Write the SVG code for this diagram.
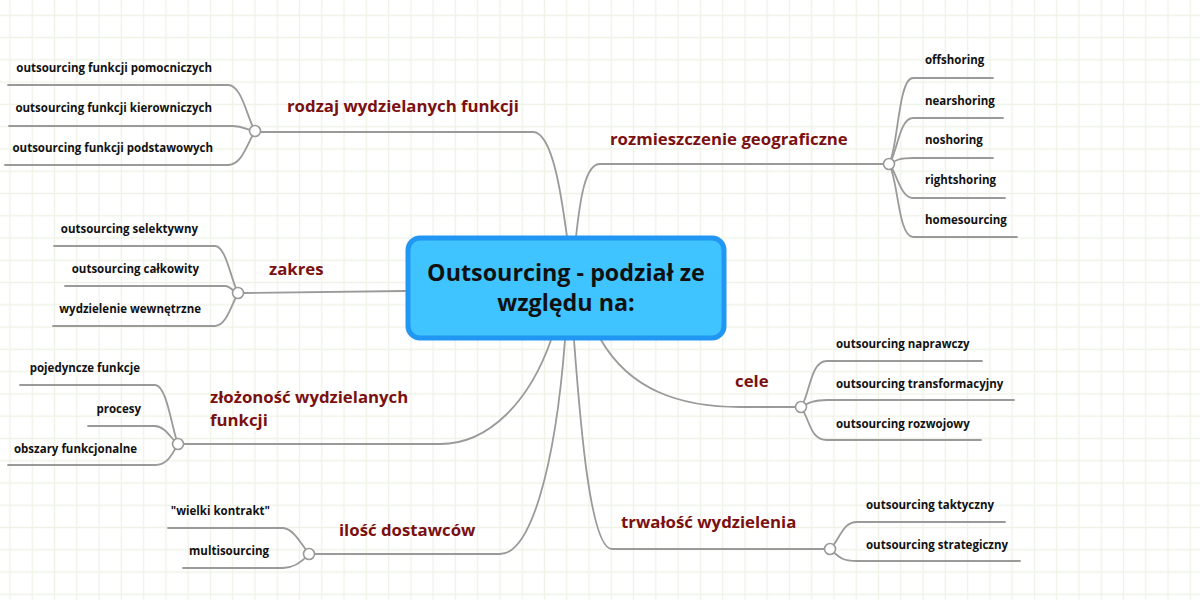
<svg xmlns="http://www.w3.org/2000/svg" width="1200" height="600" viewBox="0 0 1200 600">
<defs>
<pattern id="grid" patternUnits="userSpaceOnUse" x="-1.135" y="4.165" width="22.27" height="22.27">
<path d="M11.135,0 V22.27 M0,11.135 H22.27" stroke="#eef3e6" stroke-width="1.3" fill="none"/>
</pattern>
<style>
.c{fill:none;stroke:#9a9a9a;stroke-width:1.8;stroke-linecap:round}
.dot{fill:#fff;stroke:#9a9a9a;stroke-width:1.6}
.br{font-family:"Open Sans","Liberation Sans",sans-serif;font-weight:700;font-size:16.8px;fill:#7a1010}
.lf{font-family:"Open Sans","Liberation Sans",sans-serif;font-weight:700;font-size:11.5px;fill:#111}
.ce{font-family:"Open Sans","Liberation Sans",sans-serif;font-weight:700;font-size:23.3px;fill:#111}
</style>
</defs>
<rect width="1200" height="600" fill="#fff"/>
<rect width="1200" height="600" fill="url(#grid)"/>
<g id="connectors">
<path class="c" d="M260,132 H533 C553,132 562,200 567,237"/>
<path class="c" d="M243,293 L406,291"/>
<path class="c" d="M183,444 H440 C490,444 530,400 551,340"/>
<path class="c" d="M314,554 H500 C530,554 555,470 565,340"/>
<path class="c" d="M576,237 C580,200 585,164 600,164 H884"/>
<path class="c" d="M601,340 C630,390 680,407 740,407 H796"/>
<path class="c" d="M574,340 C580,420 590,549 612,549 H825"/>
<path class="c" d="M8,85 H228 C242,85 247,118 255,131"/>
<path class="c" d="M9,126 H233 C244,126 248,131 255,131"/>
<path class="c" d="M5,165 H228 C242,165 247,144 255,131"/>
<path class="c" d="M54,246 H215 C226,246 231,280 238,293"/>
<path class="c" d="M65,286 H225 C231,286 234,293 238,293"/>
<path class="c" d="M53,326 H215 C226,326 231,306 238,293"/>
<path class="c" d="M20,385 H155 C167,385 172,430 178,444"/>
<path class="c" d="M88,426 H155 C165,426 172,440 178,444"/>
<path class="c" d="M8,465 H155 C167,465 172,455 178,444"/>
<path class="c" d="M168,528 H283 C293,528 302,545 309,554"/>
<path class="c" d="M183,568 H283 C293,568 302,562 309,554"/>
<path class="c" d="M889,164 C898,150 898,78 913,78 H993"/>
<path class="c" d="M889,164 C897,155 899,118 913,118 H1003"/>
<path class="c" d="M889,164 C896,160 900,158 913,158 H993"/>
<path class="c" d="M889,164 C896,170 900,198 913,198 H1005"/>
<path class="c" d="M889,164 C898,178 898,237 913,237 H1017"/>
<path class="c" d="M801,407 C810,395 810,361 827,361 H982"/>
<path class="c" d="M801,407 C810,402 815,400 827,400 H1014"/>
<path class="c" d="M801,407 C810,420 810,440 827,440 H981"/>
<path class="c" d="M830,549 C840,540 842,522 857,522 H1005"/>
<path class="c" d="M830,549 C840,558 842,561 857,561 H1020"/>
</g>
<g id="center">
<rect x="408" y="238" width="316" height="100" rx="12" fill="#40c4ff" stroke="#2196f3" stroke-width="5"/>
<text class="ce" x="566" y="281" text-anchor="middle">Outsourcing - podział ze</text>
<text class="ce" x="566" y="311" text-anchor="middle">względu na:</text>
</g>
<g id="rodzaj">
<circle class="dot" cx="255" cy="131" r="5.5"/>
<text class="br" x="287" y="112">rodzaj wydzielanych funkcji</text>
<text class="lf" x="212" y="72" text-anchor="end">outsourcing funkcji pomocniczych</text>
<text class="lf" x="212" y="112" text-anchor="end">outsourcing funkcji kierowniczych</text>
<text class="lf" x="213" y="152" text-anchor="end">outsourcing funkcji podstawowych</text>
</g>
<g id="zakres">
<circle class="dot" cx="238" cy="293" r="5.5"/>
<text class="br" x="269" y="275">zakres</text>
<text class="lf" x="198" y="233" text-anchor="end">outsourcing selektywny</text>
<text class="lf" x="199" y="273" text-anchor="end">outsourcing całkowity</text>
<text class="lf" x="201" y="313" text-anchor="end">wydzielenie wewnętrzne</text>
</g>
<g id="zlozonosc">
<circle class="dot" cx="178" cy="444" r="5.5"/>
<text class="br" x="210" y="403">złożoność wydzielanych</text>
<text class="br" x="210" y="426">funkcji</text>
<text class="lf" x="140" y="372" text-anchor="end">pojedyncze funkcje</text>
<text class="lf" x="141" y="413" text-anchor="end">procesy</text>
<text class="lf" x="137" y="453" text-anchor="end">obszary funkcjonalne</text>
</g>
<g id="ilosc">
<circle class="dot" cx="309" cy="554" r="5.5"/>
<text class="br" x="339" y="536">ilość dostawców</text>
<text class="lf" x="270" y="515" text-anchor="end">"wielki kontrakt"</text>
<text class="lf" x="269" y="555" text-anchor="end">multisourcing</text>
</g>
<g id="geo">
<circle class="dot" cx="889" cy="164" r="5.5"/>
<text class="br" x="610" y="145">rozmieszczenie geograficzne</text>
<text class="lf" x="925" y="64">offshoring</text>
<text class="lf" x="925" y="105">nearshoring</text>
<text class="lf" x="925" y="144">noshoring</text>
<text class="lf" x="925" y="184">rightshoring</text>
<text class="lf" x="925" y="224">homesourcing</text>
</g>
<g id="cele">
<circle class="dot" cx="801" cy="407" r="5.5"/>
<text class="br" x="735" y="387">cele</text>
<text class="lf" x="836" y="348">outsourcing naprawczy</text>
<text class="lf" x="836" y="388">outsourcing transformacyjny</text>
<text class="lf" x="836" y="428">outsourcing rozwojowy</text>
</g>
<g id="trwalosc">
<circle class="dot" cx="830" cy="549" r="5.5"/>
<text class="br" x="621" y="528">trwałość wydzielenia</text>
<text class="lf" x="866" y="509">outsourcing taktyczny</text>
<text class="lf" x="866" y="549">outsourcing strategiczny</text>
</g>
</svg>
